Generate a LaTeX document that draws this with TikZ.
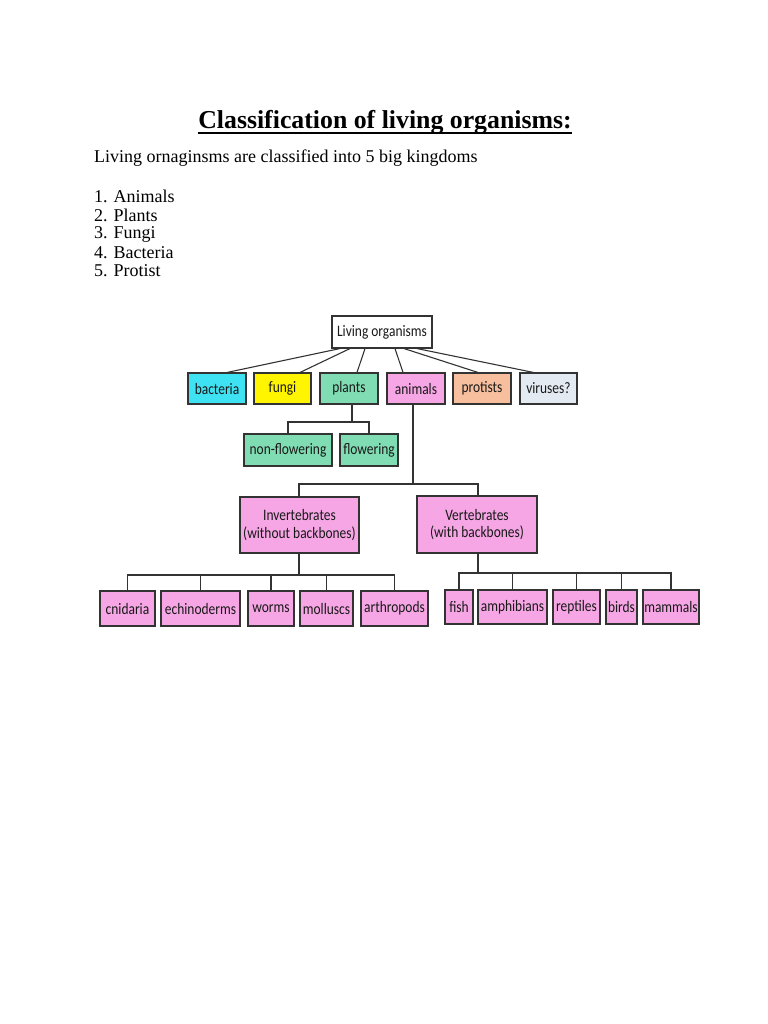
\documentclass[tikz,border=0pt]{standalone}
\usepackage{fontspec}
\setmainfont{Liberation Serif}
\newfontfamily\diafont[FakeStretch=0.84]{Carlito}
\begin{document}
\begin{tikzpicture}[x=1bp,y=-1bp]
\definecolor{cbact}{HTML}{3FE2F2}
\definecolor{cfung}{HTML}{FFF500}
\definecolor{cplant}{HTML}{80DCB2}
\definecolor{canim}{HTML}{F6A6E4}
\definecolor{cprot}{HTML}{F8BF9E}
\definecolor{cvir}{HTML}{E3EAF2}
\definecolor{cline}{HTML}{333333}
\tikzset{
  box/.style={draw=cline, line width=1.1bp, inner sep=0pt, align=center,
    font=\diafont\fontsize{16bp}{17.5bp}\selectfont, text=black!90},
  conn/.style={draw=cline, line width=1.1bp},
  bodytext/.style={anchor=west, inner sep=0pt, font=\fontsize{18bp}{21bp}\selectfont}
}
\useasboundingbox[fill=white] (0,0) rectangle (768,1024);
% text
\node[anchor=base, inner sep=0pt, font=\bfseries\fontsize{25.8bp}{30bp}\selectfont] (title) at (385,128) {Classification of living organisms:};
\draw[line width=1.6bp] (title.west |- 0,133) -- (title.east |- 0,133);
\node[bodytext] (intro) at (94,158) {Living ornaginsms are classified into 5 big kingdoms};
\node[bodytext] (l1) at (94,196) {1. Animals};
\node[bodytext] (l2) at (94,215) {2. Plants};
\node[bodytext] (l3) at (94,234) {3. Fungi};
\node[bodytext] (l4) at (94,253) {4. Bacteria};
\node[bodytext] (l5) at (94,271) {5. Protist};
% root
\node[box, fill=white, minimum width=100bp, minimum height=32bp] (root) at (382,332) {Living organisms};
% kingdoms
\node[box, fill=cbact, minimum width=58bp, minimum height=31bp] (bact) at (217,388.5) {bacteria};
\node[box, fill=cfung, minimum width=57bp, minimum height=31bp] (fung) at (282.5,388.5) {fungi};
\node[box, fill=cplant, minimum width=58bp, minimum height=31bp] (plant) at (349,388.5) {plants};
\node[box, fill=canim, minimum width=58bp, minimum height=31bp] (anim) at (416,388.5) {animals};
\node[box, fill=cprot, minimum width=58bp, minimum height=31bp] (prot) at (482,388.5) {protists};
\node[box, fill=cvir, minimum width=57bp, minimum height=31bp] (vir) at (548.5,388.5) {viruses?};
% plants children
\node[box, fill=cplant, minimum width=88bp, minimum height=32bp] (nonfl) at (288,450) {non-flowering};
\node[box, fill=cplant, minimum width=58bp, minimum height=32bp] (flow) at (369,450) {flowering};
% animals children
\node[box, fill=canim, minimum width=119bp, minimum height=56bp] (inv) at (299.5,525) {Invertebrates\\(without backbones)};
\node[box, fill=canim, minimum width=120bp, minimum height=57bp] (vert) at (477,524.5) {Vertebrates\\(with backbones)};
% invertebrate children
\node[box, fill=canim, minimum width=55bp, minimum height=35bp] (cni) at (127.5,608.5) {cnidaria};
\node[box, fill=canim, minimum width=79bp, minimum height=35bp] (ech) at (200.5,608.5) {echinoderms};
\node[box, fill=canim, minimum width=46bp, minimum height=35bp] (worm) at (271,608.5) {worms};
\node[box, fill=canim, minimum width=53bp, minimum height=35bp] (moll) at (326.5,608.5) {molluscs};
\node[box, fill=canim, minimum width=67bp, minimum height=35bp] (arth) at (394.5,608.5) {arthropods};
% vertebrate children
\node[box, fill=canim, minimum width=28bp, minimum height=34bp] (fish) at (459,607) {fish};
\node[box, fill=canim, minimum width=69bp, minimum height=34bp] (amph) at (512.5,607) {amphibians};
\node[box, fill=canim, minimum width=47bp, minimum height=34bp] (rept) at (576.5,607) {reptiles};
\node[box, fill=canim, minimum width=31bp, minimum height=34bp] (bird) at (621.5,607) {birds};
\node[box, fill=canim, minimum width=56bp, minimum height=34bp] (mamm) at (671,607) {mammals};
% junctions
\coordinate (pj) at (352,422);
\coordinate (aj) at (413,484);
\coordinate (ij) at (299,575);
\coordinate (vj) at (478,573);
% root connectors
\draw[conn] ([xshift=-42bp]root.south) -- ([xshift=10bp]bact.north);
\draw[conn] ([xshift=-32bp]root.south) -- ([xshift=17.5bp]fung.north);
\draw[conn] ([xshift=-17bp]root.south) -- ([xshift=8bp]plant.north);
\draw[conn] ([xshift=13bp]root.south) -- ([xshift=-13bp]anim.north);
\draw[conn] ([xshift=22bp]root.south) -- ([xshift=-4bp]prot.north);
\draw[conn] ([xshift=35bp]root.south) -- ([xshift=-15bp]vir.north);
% plants
\draw[conn] (plant.south -| pj) -- (pj);
\draw[conn] (nonfl.north) |- (pj) -| (flow.north);
% animals
\draw[conn] (anim.south -| aj) -- (aj);
\draw[conn] (inv.north -| 299,0) |- (aj) -| (vert.north -| 478,0);
% invertebrates
\draw[conn] (inv.south -| ij) -- (ij);
\draw[conn] (cni.north) |- (ij) -| (arth.north);
\foreach \n in {ech,worm,moll} \draw[conn] (\n.north) -- (\n.north |- ij);
% vertebrates
\draw[conn] (vert.south -| vj) -- (vj);
\draw[conn] (fish.north) |- (vj) -| (mamm.north);
\foreach \n in {amph,rept,bird} \draw[conn] (\n.north) -- (\n.north |- vj);
\end{tikzpicture}
\end{document}
